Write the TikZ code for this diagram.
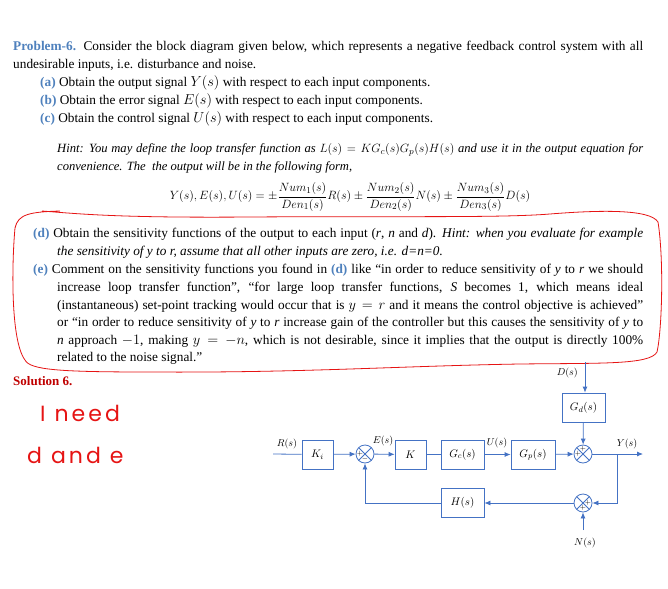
\documentclass[tikz,border=0pt]{standalone}
\usepackage{fontspec}
\setmainfont{Liberation Serif}
\newfontfamily\hand{Poppins}
\usetikzlibrary{arrows.meta}
\definecolor{pblue}{RGB}{79,129,189}
\definecolor{lblue}{RGB}{68,114,196}
\definecolor{sred}{RGB}{192,0,0}
\definecolor{hred}{RGB}{230,20,20}
\begin{document}
\begin{tikzpicture}[x=1pt,y=-1pt,
  txt/.style={anchor=west,inner sep=0,font=\fontsize{13.3}{15}\selectfont},
  hint/.style={anchor=west,inner sep=0,font=\fontsize{12.6}{14}\selectfont\itshape},
  blk/.style={draw=lblue,thick,minimum height=29pt,inner sep=0,font=\fontsize{11}{13}\selectfont},
  sumj/.style={circle,draw=lblue,thick,minimum size=18pt,inner sep=0,
    path picture={\draw[lblue,thick] (path picture bounding box.north west)--(path picture bounding box.south east) (path picture bounding box.north east)--(path picture bounding box.south west);}},
  sig/.style={inner sep=0,font=\fontsize{10}{12}\selectfont},
  sgn/.style={inner sep=0,font=\fontsize{7}{8}\selectfont},
  ar/.style={lblue,thick,-{Latex[length=6pt,width=5pt]}},
  ln/.style={lblue,thick}]
\useasboundingbox (0,0) rectangle (668,588);
\fill[white] (0,0) rectangle (668,588);
\newcommand{\lab}[1]{\textbf{\textcolor{pblue}{#1}}}
% text
\node[txt] (l1) at (13,47) {\makebox[630pt][s]{\lab{Problem-6.} Consider the block diagram given below, which represents a negative feedback control system with all}};
\node[txt] (l2) at (13,65) {undesirable inputs, i.e. disturbance and noise.};
\node[txt] (la) at (40,83) {\lab{(a)} Obtain the output signal $Y(s)$ with respect to each input components.};
\node[txt] (lb) at (40,101) {\lab{(b)} Obtain the error signal $E(s)$ with respect to each input components.};
\node[txt] (lc) at (40,119) {\lab{(c)} Obtain the control signal $U(s)$ with respect to each input components.};
\node[hint] (h1) at (57,150) {\makebox[586pt][s]{Hint: You may define the loop transfer function as $L(s)=KG_c(s)G_p(s)H(s)$ and use it in the output equation for}};
\node[hint] (h2) at (57,167) {convenience. The\ \ the output will be in the following form,};
\node[inner sep=0,font=\fontsize{12.5}{14}\selectfont] (eq) at (350,197) {$\displaystyle Y(s),E(s),U(s)=\pm\frac{Num_1(s)}{Den_1(s)}R(s)\pm\frac{Num_2(s)}{Den_2(s)}N(s)\pm\frac{Num_3(s)}{Den_3(s)}D(s)$};
\node[txt] (ld) at (33,234) {\makebox[610pt][s]{\lab{(d)} Obtain the sensitivity functions of the output to each input (\textit{r}, \textit{n} and \textit{d}). \textit{Hint: when you evaluate for example}}};
\node[txt] (ld2) at (57,252) {\itshape the sensitivity of y to r, assume that all other inputs are zero, i.e. d=n=0.};
\node[txt] (le) at (33,270) {\makebox[610pt][s]{\lab{(e)} Comment on the sensitivity functions you found in \lab{(d)} like “in order to reduce sensitivity of \textit{y} to \textit{r} we should}};
\node[txt] (le2) at (57,288) {\makebox[586pt][s]{increase loop transfer function”, “for large loop transfer functions, \textit{S} becomes 1, which means ideal}};
\node[txt] (le3) at (57,306) {\makebox[586pt][s]{(instantaneous) set-point tracking would occur that is $y=r$ and it means the control objective is achieved”}};
\node[txt] (le4) at (57,323) {\makebox[586pt][s]{or “in order to reduce sensitivity of \textit{y} to \textit{r} increase gain of the controller but this causes the sensitivity of \textit{y} to}};
\node[txt] (le5) at (57,341) {\makebox[586pt][s]{\textit{n} approach $-1$, making $y=-n$, which is not desirable, since it implies that the output is directly 100\%}};
\node[txt] (le6) at (57,358) {related to the noise signal.”};
\node[txt,text=sred,font=\fontsize{13}{15}\selectfont\bfseries] (sol) at (13,381) {Solution 6.};
\node[anchor=west,inner sep=0,text=hred,font=\hand\fontsize{22}{24}\selectfont\addfontfeature{LetterSpace=14}] (hw1) at (40,413) {I need};
\node[anchor=west,inner sep=0,text=hred,font=\hand\fontsize{22}{24}\selectfont\addfontfeature{LetterSpace=14}] (hw2) at (27,455) {d and e};
% red outline
\draw[hred,thick,line join=round] (42,211) .. controls (80,214) and (120,218) .. (250,217)
  .. controls (400,216) and (500,218) .. (550,214) .. controls (600,210) and (650,209) .. (658,222)
  .. controls (664,260) and (662,330) .. (657,352) .. controls (650,365) and (600,363) .. (520,364)
  .. controls (400,366) and (300,373) .. (150,372) .. controls (60,372) and (30,370) .. (25,360)
  .. controls (10,340) and (12,260) .. (15,228) .. controls (18,214) and (30,212) .. (60,211);
% block diagram
\node[blk,minimum width=31pt] (ki) at (317.5,454.5) {$K_i$};
\node[sumj] (s1) at (365,454) {};
\node[blk,minimum width=31pt] (k) at (410.5,454.5) {$K$};
\node[blk,minimum width=43pt] (gc) at (462.5,454.5) {$G_c(s)$};
\node[blk,minimum width=44pt] (gp) at (533,454.5) {$G_p(s)$};
\node[sumj] (s2) at (583,454) {};
\node[blk,minimum width=43pt] (gd) at (583.5,407.5) {$G_d(s)$};
\node[sumj] (s3) at (583,503) {};
\node[blk,minimum width=43pt] (h) at (462.5,503) {$H(s)$};
\coordinate (rin) at (273,454);
\coordinate (yout) at (643,454);
\coordinate (br) at (617,454);
\coordinate (br2) at (617,503);
\coordinate (fb) at (365,503);
\coordinate (din) at (585,362);
\coordinate (nin) at (583,530);
\node[sig] (rl) at (287,444) {$R(s)$};
\node[sig] (el) at (383,441) {$E(s)$};
\node[sig] (ul) at (497,443) {$U(s)$};
\node[sig] (yl) at (627,444) {$Y(s)$};
\node[sig,anchor=east] (dl) at (578,373) {$D(s)$};
\node[sig] (nl) at (585,543) {$N(s)$};
\node[sgn] at ([xshift=-5pt]s1.center) {$+$};
\node[sgn] at ([yshift=-5pt]s1.center) {$-$};
\node[sgn] at ([yshift=5pt]s2.center) {$+$};
\node[sgn] at ([xshift=-5pt]s2.center) {$+$};
\node[sgn] at ([xshift=5pt]s3.center) {$+$};
\node[sgn] at ([yshift=-5pt]s3.center) {$+$};
\draw[ln] (rin) -- (ki);
\draw[ar] (ki) -- (s1);
\draw[ar] (s1) -- (k);
\draw[ln] (k) -- (gc);
\draw[ar] (gc) -- (gp);
\draw[ar] (gp) -- (s2);
\draw[ar] (s2) -- (yout);
\draw[ar] (din) -- (gd.north -| din);
\draw[ar] (gd) -- (s2);
\draw[ar] (br) -- (br2) -- (s3);
\draw[ar] (nin) -- (s3);
\draw[ar] (s3) -- (h);
\draw[ar] (h) -- (fb) -- (s1);
\end{tikzpicture}
\end{document}
